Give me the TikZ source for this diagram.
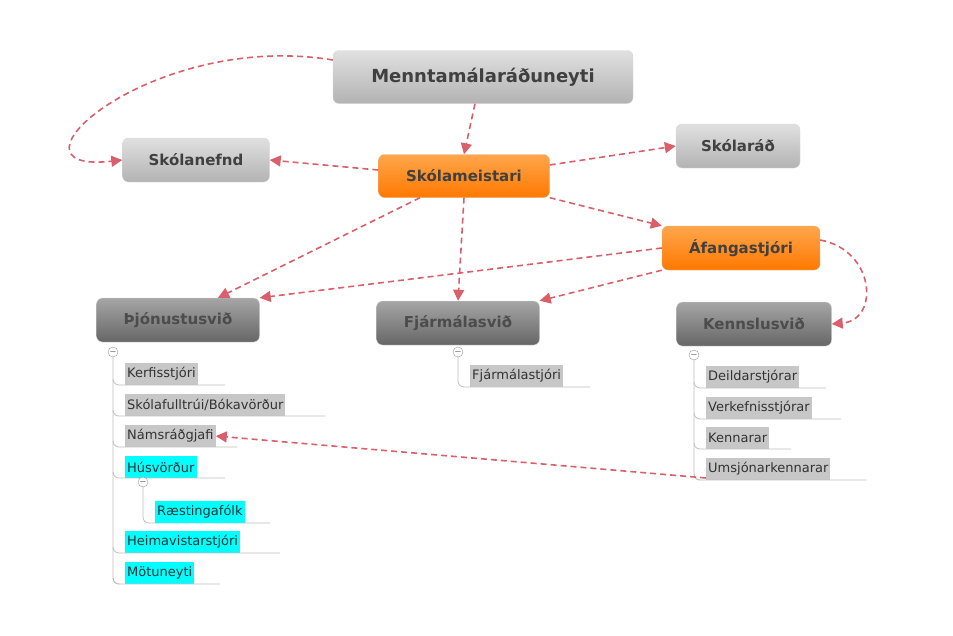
\documentclass[tikz,border=0pt]{standalone}
\usepackage{fontspec}
\setmainfont{DejaVu Sans}
\usetikzlibrary{arrows.meta}
\definecolor{cy}{RGB}{0,255,255}
\begin{document}
\begin{tikzpicture}[x=1pt,y=-1pt,
 box/.style={rounded corners=6pt,minimum height=44pt,font=\bfseries\fontsize{15}{17}\selectfont,text=black!75,draw=black!15},
 lgray/.style={box,top color=black!12,bottom color=black!30},
 dgray/.style={box,top color=black!35,bottom color=black!60,text=black!70},
 orange/.style={box,top color=orange!70,bottom color=orange!95!red,draw=orange!80!black!50},
 leaf/.style={font=\fontsize{13}{15}\selectfont,text=black!80,inner sep=2pt,minimum height=22pt,anchor=west,fill=#1},
 leaf/.default={black!22},
 tree/.style={draw=black!25,line width=0.8pt},
 col/.style={circle,draw=black!40,fill=white,inner sep=0pt,minimum size=10pt,font=\fontsize{9}{9}\selectfont},
 arr/.style={draw={rgb,255:red,217;green,96;blue,106},line width=1.6pt,dash pattern=on 6pt off 4pt,-{Triangle[length=11pt,width=11pt]}}]
\useasboundingbox (0,0) rectangle (953,635);
\node[lgray,minimum width=300pt,minimum height=53pt,font=\bfseries\fontsize{18}{20}\selectfont] (m) at (483,77) {Menntamálaráðuneyti};
\node[lgray,minimum width=147pt] (sn) at (196,160) {Skólanefnd};
\node[orange,minimum width=171pt,minimum height=43pt] (sm) at (464,176) {Skólameistari};
\node[lgray,minimum width=124pt] (sr) at (738,146) {Skólaráð};
\node[orange,minimum width=158pt] (af) at (741,248) {Áfangastjóri};
\node[dgray,minimum width=163pt] (tj) at (178,320) {Þjónustusvið};
\node[dgray,minimum width=163pt] (fj) at (458,323) {Fjármálasvið};
\node[dgray,minimum width=155pt] (ke) at (754,324) {Kennslusvið};
% Þjónustusvið tree
\draw[tree] (113,352) -- (113,578) arc[start angle=180,end angle=270,radius=6pt];
\node[col] (c1) at (113,352) {$-$};
\foreach \n/\t/\y/\w/\c in {k1/{Kerfisstjóri}/374/100/black!22,k2/{Skólafulltrúi/Bókavörður}/405/200/black!22,k3/{Námsráðgjafi}/436/112/black!22,k4/{Húsvörður}/467/100/cy,k6/{Heimavistarstjóri}/542/155/cy,k7/{Mötuneyti}/573/95/cy}{
 \node[leaf=\c] (\n) at (125,\y) {\t};
 \draw[tree] (113,\y+5) arc[start angle=180,end angle=270,radius=6pt] -- (125+\w,\y+11);
}
\draw[tree] (143,482) -- (143,517) arc[start angle=180,end angle=270,radius=6pt] -- (270,523);
\node[col] (c2) at (143,482) {$-$};
\node[leaf=cy] (k5) at (155,512) {Ræstingafólk};
% Fjármálasvið
\draw[tree] (458,352) -- (458,381) arc[start angle=180,end angle=270,radius=6pt] -- (590,387);
\node[col] (c3) at (458,352) {$-$};
\node[leaf] (f1) at (470,376) {Fjármálastjóri};
% Kennslusvið
\draw[tree] (694,355) -- (694,474) arc[start angle=180,end angle=270,radius=6pt];
\node[col] (c4) at (694,355) {$-$};
\foreach \n/\t/\y/\w in {e1/{Deildarstjórar}/377/120,e2/{Verkefnisstjórar}/408/135,e3/{Kennarar}/438/85,e4/{Umsjónarkennarar}/469/160}{
 \node[leaf] (\n) at (706,\y) {\t};
 \draw[tree] (694,\y+5) arc[start angle=180,end angle=270,radius=6pt] -- (706+\w,\y+11);
}
% arrows
\draw[arr] ([xshift=-8pt]m.south) -- (sm.north);
\draw[arr] ([yshift=17pt]m.west) .. controls (150,30) and (-10,175) .. (sn.west);
\draw[arr] ([yshift=6pt]sm.west) -- (sn.east);
\draw[arr] ([yshift=11pt]sm.east) -- (sr.west);
\draw[arr] (sm.south east) -- (af.north west);
\draw[arr] ([xshift=-44pt]sm.south) -- ([xshift=40pt]tj.north);
\draw[arr] (sm.south) -- (fj.north);
\draw[arr] (af.west) -- (tj.north east);
\draw[arr] (af.south west) -- (fj.north east);
\draw[arr] ([yshift=8pt]af.east) .. controls (875,250) and (880,320) .. (ke.east);
\draw[arr] ([yshift=-9pt]e4.west) -- (k3.east);
\end{tikzpicture}
\end{document}
